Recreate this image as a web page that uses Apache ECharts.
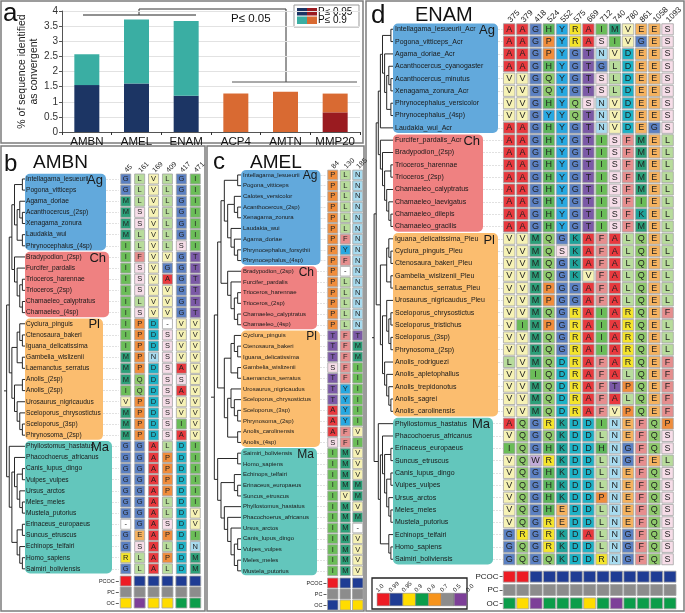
<!DOCTYPE html>
<html>
<head>
<meta charset="utf-8">
<title>Convergent sites in enamel proteins</title>
<script src="https://cdn.jsdelivr.net/npm/echarts@6/dist/echarts.min.js"></script>
<style>
html, body { margin: 0; padding: 0; background: #fff; }
#main { width: 685px; height: 613px; }
</style>
</head>
<body>
<div id="main"></div>
<script>
var FONT = '"Liberation Sans", Arial, sans-serif';

// ---- panel a : % of sequence identified as convergent
var geneNames = ['AMBN', 'AMEL', 'ENAM', 'ACP4', 'AMTN', 'MMP20'];
var geneIsEMP = [true, true, true, false, false, false];
var pct95 = [1.55, 1.6, 1.2, 0, 0, 0.65];      // P <= 0.95 part
var pct90 = [1.02, 2.12, 2.47, 1.27, 1.33, 0.62]; // extra part up to P <= 0.9

// ---- posterior scale (bins between the tick values)
var scaleTicks = ['1.0', '0.99', '0.95', '0.9', '0.8', '0.7', '0.5', '0.0'];
var scaleColors = ['#ed1c24', '#1f3c94', '#ffdc00', '#0b9d4a', '#f7941d', '#8c8c8c', '#7d3f98'];
var postRows = ['PCOC', 'PC', 'OC'];

var cladeColor = { Ag: '#62a9dc', Ch: '#ef8181', Pl: '#fbbd6f', Ma: '#63c6bc' };
var aaColor = {
	A: '#e8393e', G: '#5b80c2', L: '#b8dc9c', V: '#f6f2b5', I: '#6bbd58', M: '#2c9f78',
	S: '#f6dde8', T: '#7b59a6', P: '#f08d3c', D: '#1db2c6', N: '#a8dbef', Q: '#8fca6c',
	F: '#e68e8e', Y: '#28a8e0', H: '#5cb55a', R: '#f4e42c', K: '#1fa39a', E: '#f5b25f',
	W: '#c2abd8', '-': '#ffffff'
};

// ---- panel b : AMBN
var ambnSites = ['45', '161', '169', '409', '417', '471'];
var ambnTaxa = ['Intellagama_lesueurii', 'Pogona_vitticeps', 'Agama_doriae', 'Acanthocercus_(2sp)', 'Xenagama_zonura', 'Laudakia_wui', 'Phrynocephalus_(4sp)',
	'Bradypodion_(2sp)', 'Furcifer_pardalis', 'Trioceros_harennae', 'Trioceros_(2sp)', 'Chamaeleo_calyptratus', 'Chamaeleo_(4sp)',
	'Cyclura_pinguis', 'Ctenosaura_bakeri', 'Iguana_delicatissima', 'Gambelia_wislizenii', 'Laemanctus_serratus', 'Anolis_(2sp)', 'Anolis_(2sp)',
	'Urosaurus_nigricaudus', 'Sceloporus_chrysostictus', 'Sceloporus_(3sp)', 'Phrynosoma_(2sp)',
	'Phyllostomus_hastatus', 'Phacochoerus_africanus', 'Canis_lupus_dingo', 'Vulpes_vulpes', 'Ursus_arctos', 'Meles_meles', 'Mustela_putorius',
	'Erinaceus_europaeus', 'Suncus_etruscus', 'Echinops_telfairi', 'Homo_sapiens', 'Saimiri_boliviensis'];
var ambnSeq = ['GLVLGI', 'GLVLGI', 'MLVLGI', 'MSVLGI', 'MSVLGI', 'MLVLGI', 'ILVLSI',
	'IFVVGT', 'ISVGGT', 'ISVAGT', 'ISVVGT', 'ILVVGT', 'ISVVGT',
	'IPD-VV', 'IPDSVV', 'IPDSVV', 'MPNSVV', 'MPDSAV', 'MQDSSV', 'IQDSAV', 'VPDSVV', 'MPDSVV', 'MPDSIV', 'MPDSAV',
	'GGALDI', 'GGAPDI', 'GGAPDI', 'GGAPDI', 'GGAPDI', 'GGALDI', 'GGALDV', '-GASDV', 'GEAPDI', 'GSALDN', 'RLAPDM', 'GLALDM'];
var ambnClades = [['Ag', 0, 6], ['Ch', 7, 12], ['Pl', 13, 23], ['Ma', 24, 35]];
var ambnTree = [[[[[0, 1], [[2, [3, 4]], [5, 6]]], [7, [8, [[9, 10], [11, 12]]]]],
	[[[13, [14, 15]], [16, 17]], [[18, 19], [20, [21, [22, 23]]]]]],
	[24, [[25, [[26, 27], [28, [29, 30]]]], [[31, 32], [33, [34, 35]]]]]];
var ambnPost = [[0, 1, 1, 1, 1, 1], [5, 5, 5, 5, 5, 5], [2, 6, 2, 2, 3, 3]];

// ---- panel c : AMEL
var amelSites = ['84', '130', '185'];
var amelTaxa = ['Intellagama_lesueurii', 'Pogona_vitticeps', 'Calotes_versicolor', 'Acanthocercus_(2sp)', 'Xenagama_zonura', 'Laudakia_wui', 'Agama_doriae', 'Phrynocephalus_forsythii', 'Phrynocephalus_(4sp)',
	'Bradypodion_(2sp)', 'Furcifer_pardalis', 'Trioceros_harennae', 'Trioceros_(2sp)', 'Chamaeleo_calyptratus', 'Chamaeleo_(4sp)',
	'Cyclura_pinguis', 'Ctenosaura_bakeri', 'Iguana_delicatissima', 'Gambelia_wislizenii', 'Laemanctus_serratus', 'Urosaurus_nigricaudus',
	'Sceloporus_chrysostictus', 'Sceloporus_(3sp)', 'Phrynosoma_(2sp)', 'Anolis_carolinensis', 'Anolis_(4sp)',
	'Saimiri_boliviensis', 'Homo_sapiens', 'Echinops_telfairi', 'Erinaceus_europaeus', 'Suncus_etruscus', 'Phyllostomus_hastatus',
	'Phacochoerus_africanus', 'Ursus_arctos', 'Canis_lupus_dingo', 'Vulpes_vulpes', 'Meles_meles', 'Mustela_putorius'];
var amelSeq = ['PLN', 'PLN', 'PLN', 'PLN', 'PLN', 'PLN', 'PFN', 'PYN', 'PFN',
	'P-N', 'PLN', 'PLN', 'PLN', 'PLN', 'PLN',
	'TFT', 'TFM', 'TFM', 'SFI', 'TFI', 'TYI', 'TYI', 'AYI', 'AYI', 'AFV', 'SFI',
	'IMV', 'IMV', 'IMV', 'IMM', 'IVM', 'IMV', 'IMM', 'IM-', 'IMV', 'IMV', 'IMV', 'IMV'];
var amelClades = [['Ag', 0, 8], ['Ch', 9, 14], ['Pl', 15, 25], ['Ma', 26, 37]];
var amelTree = [[[[[0, 1], [[2, [3, 4]], [5, [6, [7, 8]]]]], [9, [10, [[11, 12], [13, 14]]]]],
	[[[15, [16, 17]], [18, 19]], [[20, [21, [22, 23]]], [24, 25]]]],
	[[26, 27], [[28, [29, 30]], [31, [32, [33, [[34, 35], [36, 37]]]]]]]];
var amelPost = [[0, 1, 1], [5, 5, 5], [1, 2, 2]];

// ---- panel d : ENAM
var enamSites = ['375', '379', '418', '524', '552', '575', '669', '712', '740', '780', '861', '1058', '1093'];
var enamTaxa = ['Intellagama_lesueurii_Acr', 'Pogona_vitticeps_Acr', 'Agama_doriae_Acr', 'Acanthocercus_cyanogaster', 'Acanthocercus_minutus',
	'Xenagama_zonura_Acr', 'Phrynocephalus_versicolor', 'Phrynocephalus_(4sp)', 'Laudakia_wui_Acr',
	'Furcifer_pardalis_Acr', 'Bradypodion_(2sp)', 'Trioceros_harennae', 'Trioceros_(2sp)', 'Chamaeleo_calyptratus', 'Chamaeleo_laevigatus',
	'Chamaeleo_dilepis', 'Chamaeleo_gracilis',
	'Iguana_delicatissima_Pleu', 'Cyclura_pinguis_Pleu', 'Ctenosaura_bakeri_Pleu', 'Gambelia_wislizenii_Pleu', 'Laemanctus_serratus_Pleu',
	'Urosaurus_nigricaudus_Pleu', 'Sceloporus_chrysostictus', 'Sceloporus_tristichus', 'Sceloporus_(3sp)', 'Phrynosoma_(2sp)',
	'Anolis_rodriguezi', 'Anolis_apletophallus', 'Anolis_trepidonotus', 'Anolis_sagrei', 'Anolis_carolinensis',
	'Phyllostomus_hastatus', 'Phacochoerus_africanus', 'Erinaceus_europaeus', 'Suncus_etruscus', 'Canis_lupus_dingo', 'Vulpes_vulpes',
	'Ursus_arctos', 'Meles_meles', 'Mustela_putorius', 'Echinops_telfairi', 'Homo_sapiens', 'Saimiri_boliviensis'];
var enamSeq = ['AAGHYRAIMVEES', 'AAGPYRASIVGES', 'AAGPYGTNVDEES', 'AAGHYGTGLDEES', 'VVGQYGTSLDEES', 'VVGQYGTSLDEES',
	'VVGHYQSNVDEES', 'VVGYYQTNVDEES', 'AAGHYGTNVDEGS',
	'AAGHYGTISFMEL', 'AAGHYGTISFMEL', 'AAGHYGTISFMEL', 'AAGHYGTISFMEL', 'AAGHYGTISFMEL', 'AAGHYGTISFIEL', 'AAGHYGTISFKEL', 'AAGHYGTISFMEL',
	'VVMQGKAFALQEL', 'VVMQSKAFALQEL', 'VVMQGKAFALQEL', 'VVMQGKVFALQEL', 'VVMPGGAFALQEL', 'VVMPGGAFALQEL', 'VVMQGRAIARQEF',
	'VIMPGRAIARQEL', 'VVMQGRAIARQEL', 'VVMQGRAIARQEL', 'LVMQDRAFARQEF', 'VVIQDRAFALQEF', 'VVMQDRAFTPQEF', 'VVMQDRAFALQEF', 'VVMQDRAFVPQEF',
	'AQGRKDDINEFQP', 'VQGQKDDLNEFQS', 'IQGHKDDHNGFQS', 'VQWRKDDLNGFEL', 'VQGHKDDLNEFQS', 'VQGHKDDLNEFQS', 'VQGHKDDPNEFQS',
	'VQGHEDDLNEFQS', 'VQGREDDLNEFQS', 'GRGRKDALNGFQS', 'GQGRKDDLNGFQS', 'GQGQKDDRNGFQS'];
var enamClades = [['Ag', 0, 8], ['Ch', 9, 16], ['Pl', 17, 31], ['Ma', 32, 43]];
var enamTree = [[[[[[0, 1], [2, [[3, [4, 5]], [6, 7]]]], 8], [9, [10, [[11, 12], [13, [14, [15, 16]]]]]]],
	[[[17, [18, 19]], [20, 21]], [[22, [[23, 24], [25, 26]]], [27, [28, [29, [30, 31]]]]]]],
	[32, [[33, [[34, 35], [[36, 37], [38, [39, 40]]]]], [41, [42, 43]]]]];
var enamPost = [[0, 0, 1, 1, 1, 1, 1, 1, 1, 1, 1, 1, 1], [5, 5, 5, 5, 5, 5, 5, 5, 5, 5, 5, 5, 5], [3, 2, 6, 3, 3, 3, 2, 3, 6, 3, 3, 3, 3]];

// ---- layout (pixels)
var layoutB = { treeLeft: 3, labelX: 26, boxL: 25, boxR: { Ag: 106, Ch: 109, Pl: 103, Ma: 112 }, cellLeft: 118.8, cellW: 83.4,
	top: 173.4, height: 401, pcTop: 575.5, pcH: 33, cell: [10, 10], pcCell: [11, 10],
	nameSize: 6.6, letterSize: 7.5, siteSize: 7, cladeSize: 13, pcSize: 5.5 };
var layoutC = { treeLeft: 210, labelX: 243, boxL: 241, boxR: { Ag: 320.5, Ch: 317, Pl: 320, Ma: 317 }, cellLeft: 326.5, cellW: 37.5,
	top: 169.6, height: 406.6, pcTop: 577.5, pcH: 33, cell: [10, 9.6], pcCell: [10.5, 10],
	nameSize: 6, letterSize: 7.5, siteSize: 7, cladeSize: 12, pcSize: 5.5 };
var layoutD = { treeLeft: 371, labelX: 395, boxL: 393, boxR: { Ag: 498, Ch: 483, Pl: 498, Ma: 493 }, cellLeft: 502.6, cellW: 174.1,
	top: 23.1, height: 542.3, pcTop: 570, pcH: 40, cell: [11.5, 11], pcCell: [12, 11],
	nameSize: 7, letterSize: 9, siteSize: 8, cladeSize: 13, pcSize: 8 };

var grids = [], xAxes = [], yAxes = [], series = [];

function treeHeight(n) {
	return typeof n === 'number' ? 0 : 1 + Math.max.apply(null, n.map(treeHeight));
}

// elbow segments of a right-aligned cladogram
function treeSegments(root, xLeaf, xRoot) {
	var step = (xLeaf - xRoot) / (treeHeight(root) + 1);
	var segs = [];
	function walk(n) {
		if (typeof n === 'number') return [xLeaf, n];
		var kids = n.map(walk);
		var x = xLeaf - treeHeight(n) * step;
		var y = (kids[0][1] + kids[kids.length - 1][1]) / 2;
		kids.forEach(function (k) {
			segs.push([[x, y], [x, k[1]], [k[0], k[1]]]);
		});
		return [x, y];
	}
	var r = walk(root);
	segs.push([[xRoot, r[1]], [r[0], r[1]]]);
	return segs;
}

function textRender(getText, size, align) {
	return function (params, api) {
		var p = api.coord([api.value(0), api.value(1)]);
		return {
			type: 'text', x: p[0], y: p[1],
			style: { text: getText(params.dataIndex), fontSize: size, fontFamily: FONT, fill: '#1a1a1a', align: align, verticalAlign: 'middle' }
		};
	};
}

function buildPanel(sites, taxa, seq, clades, tree, post, L) {
	var g = grids.length;
	var n = taxa.length;
	var rowOf = [];
	clades.forEach(function (c) {
		for (var i = c[1]; i <= c[2]; i++) rowOf[i] = c[0];
	});

	grids.push({ left: L.treeLeft, top: L.top, width: L.cellLeft - L.treeLeft, height: L.height });
	grids.push({ left: L.cellLeft, top: L.top, width: L.cellW, height: L.height });
	grids.push({ left: L.cellLeft, top: L.pcTop, width: L.cellW, height: L.pcH });

	xAxes.push({ gridIndex: g, type: 'value', min: L.treeLeft, max: L.cellLeft, show: false });
	yAxes.push({ gridIndex: g, type: 'value', min: -0.5, max: n - 0.5, inverse: true, show: false });
	xAxes.push({
		gridIndex: g + 1, type: 'category', data: sites, position: 'top',
		axisLine: { show: false }, axisTick: { show: false }, splitLine: { show: false },
		axisLabel: { interval: 0, rotate: 45, fontSize: L.siteSize, fontFamily: FONT, margin: 2, color: '#222' }
	});
	yAxes.push({ gridIndex: g + 1, type: 'value', min: -0.5, max: n - 0.5, inverse: true, show: false });
	xAxes.push({ gridIndex: g + 2, type: 'category', data: sites, show: false });
	yAxes.push({
		gridIndex: g + 2, type: 'category', data: postRows, inverse: true,
		axisLine: { show: false },
		axisTick: { show: true, alignWithLabel: true, length: 3, lineStyle: { color: '#333', width: 0.8 } },
		axisLabel: { fontSize: L.pcSize, fontFamily: FONT, margin: 4, color: '#222' },
		splitLine: { show: false }
	});

	//clade boxes
	series.push({
		type: 'custom', xAxisIndex: g, yAxisIndex: g, z: 1, silent: true,
		encode: { x: [0, 1], y: [2, 3] },
		data: clades.map(function (c) {
			return { value: [L.boxL, L.boxR[c[0]], c[1] - 0.47, c[2] + 0.42], itemStyle: { color: cladeColor[c[0]] } };
		}),
		renderItem: function (params, api) {
			var a = api.coord([api.value(0), api.value(2)]);
			var b = api.coord([api.value(1), api.value(3)]);
			return { type: 'rect', shape: { x: a[0], y: a[1], width: b[0] - a[0], height: b[1] - a[1], r: 5 }, style: { fill: api.visual('color') } };
		}
	});
	//dashed leaders to the alignment
	series.push({
		type: 'lines', coordinateSystem: 'cartesian2d', xAxisIndex: g, yAxisIndex: g, z: 2, silent: true,
		lineStyle: { color: '#9a9a9a', width: 0.6, type: [2, 1] },
		data: taxa.map(function (t, i) {
			return { coords: [[L.boxR[rowOf[i]], i], [L.cellLeft, i]] };
		})
	});
	//tree
	series.push({
		type: 'lines', coordinateSystem: 'cartesian2d', xAxisIndex: g, yAxisIndex: g, z: 3, silent: true, polyline: true,
		lineStyle: { color: '#111', width: 0.9, opacity: 1 },
		data: treeSegments(tree, L.boxL, L.treeLeft + 1).map(function (s) {
			return { coords: s };
		})
	});
	//species names
	series.push({
		type: 'custom', xAxisIndex: g, yAxisIndex: g, z: 4, silent: true,
		encode: { x: 0, y: 1 },
		data: taxa.map(function (t, i) { return [L.labelX, i]; }),
		renderItem: textRender(function (i) { return taxa[i]; }, L.nameSize, 'left')
	});
	//clade names
	series.push({
		type: 'custom', xAxisIndex: g, yAxisIndex: g, z: 4, silent: true,
		encode: { x: 0, y: 1 },
		data: clades.map(function (c) { return [L.boxR[c[0]] - 3, c[1] + 0.1]; }),
		renderItem: textRender(function (i) { return clades[i][0]; }, L.cladeSize, 'right')
	});
	//alignment cells
	var cells = [];
	seq.forEach(function (s, i) {
		for (var j = 0; j < s.length; j++) {
			cells.push({ value: [j, i], name: s[j], itemStyle: { color: aaColor[s[j]] } });
		}
	});
	series.push({
		type: 'scatter', xAxisIndex: g + 1, yAxisIndex: g + 1, symbol: 'rect', symbolSize: L.cell, silent: true,
		itemStyle: { borderColor: '#a5a5a5', borderWidth: 0.8, opacity: 1 },
		label: { show: true, position: 'inside', formatter: '{b}', fontSize: L.letterSize, fontFamily: FONT, color: '#222' },
		data: cells
	});
	//PCOC / PC / OC posterior rows
	var pc = [];
	post.forEach(function (row, r) {
		row.forEach(function (bin, j) {
			pc.push({ value: [j, r], itemStyle: { color: scaleColors[bin] } });
		});
	});
	series.push({
		type: 'scatter', xAxisIndex: g + 2, yAxisIndex: g + 2, symbol: 'rect', symbolSize: L.pcCell, silent: true,
		itemStyle: { borderColor: '#a5a5a5', borderWidth: 0.8, opacity: 1 },
		data: pc
	});
}

// panel a grid
grids.push({ left: 62, top: 11, width: 298, height: 121 });
xAxes.push({
	gridIndex: 0, type: 'category', data: geneNames,
	axisLine: { lineStyle: { color: '#555' } },
	axisTick: { show: true, length: 3, lineStyle: { color: '#333' } },
	axisLabel: { fontSize: 11.5, fontFamily: FONT, color: '#111', margin: 4, interval: 0 }
});
yAxes.push({
	gridIndex: 0, type: 'value', min: 0, max: 4, interval: 0.5,
	name: '% of sequence identified\nas convergent', nameLocation: 'middle', nameGap: 20, nameRotate: 90,
	nameTextStyle: { fontSize: 10.5, lineHeight: 12, fontFamily: FONT, color: '#222' },
	axisLine: { show: true, lineStyle: { color: '#555' } },
	axisTick: { show: true, length: 3, lineStyle: { color: '#555' } },
	axisLabel: { fontSize: 10, fontFamily: FONT, color: '#333', margin: 4 },
	splitLine: { lineStyle: { color: '#e2e2e2' } }
});
series.push({
	type: 'bar', name: 'P≤ 0.95', stack: 'conv', barWidth: 25, xAxisIndex: 0, yAxisIndex: 0, silent: true,
	data: pct95.map(function (v, i) {
		return { value: v, itemStyle: { color: geneIsEMP[i] ? '#1c3564' : '#9a1b20' } };
	})
});
series.push({
	type: 'bar', name: 'P≤ 0.9', stack: 'conv', barWidth: 25, xAxisIndex: 0, yAxisIndex: 0, silent: true,
	data: pct90.map(function (v, i) {
		return { value: v, itemStyle: { color: geneIsEMP[i] ? '#3aaea3' : '#d96a32' } };
	})
});

buildPanel(ambnSites, ambnTaxa, ambnSeq, ambnClades, ambnTree, ambnPost, layoutB);
buildPanel(amelSites, amelTaxa, amelSeq, amelClades, amelTree, amelPost, layoutC);
buildPanel(enamSites, enamTaxa, enamSeq, enamClades, enamTree, enamPost, layoutD);

// colour scale of panel d
var sg = grids.length;
grids.push({ left: 377, top: 593, width: 90, height: 13 });
xAxes.push({
	gridIndex: sg, type: 'value', min: 0, max: 7, interval: 1, position: 'top',
	axisLine: { show: false }, axisTick: { show: false }, splitLine: { show: false },
	axisLabel: { rotate: 45, fontSize: 6, fontFamily: FONT, margin: 2, color: '#222', formatter: function (v) { return scaleTicks[v]; } }
});
yAxes.push({ gridIndex: sg, type: 'value', min: 0, max: 1, show: false });
series.push({
	type: 'scatter', xAxisIndex: sg, yAxisIndex: sg, symbol: 'rect', symbolSize: [12.6, 12.5], silent: true,
	itemStyle: { borderColor: '#777', borderWidth: 0.5, opacity: 1 },
	data: scaleColors.map(function (c, i) {
		return { value: [i + 0.5, 0.5], itemStyle: { color: c } };
	})
});

function txt(x, y, s, size) {
	return { type: 'text', x: x, y: y, silent: true, style: { text: s, fontSize: size, fontFamily: FONT, fill: '#111', align: 'left', verticalAlign: 'middle' } };
}
function frame(x, y, w, h) {
	return { type: 'rect', silent: true, shape: { x: x, y: y, width: w, height: h }, style: { fill: 'none', stroke: '#7c7c7c', lineWidth: 1.5 } };
}
function seg(pts, color) {
	return { type: 'polyline', silent: true, shape: { points: pts }, style: { stroke: color, lineWidth: 1, fill: 'none' } };
}
function box(x, y, w, h, color) {
	return { type: 'rect', silent: true, shape: { x: x, y: y, width: w, height: h }, style: { fill: color } };
}

var graphics = [
	frame(1, 1, 362, 142), frame(1, 146, 204, 465), frame(207, 146, 157, 465), frame(366, 1, 318, 610),
	txt(3, 14, 'a', 26), txt(4, 164, 'b', 24), txt(33, 163, 'AMBN', 19), txt(213, 162, 'c', 24), txt(250, 163, 'AMEL', 19),
	txt(371, 16, 'd', 26), txt(415, 15, 'ENAM', 20),
	//significance bracket
	seg([[83, 15], [196, 15]], '#222'), seg([[139, 15], [139, 9], [286, 9], [286, 82]], '#333'), seg([[232, 82], [357, 82]], '#555'),
	txt(231, 19, 'P≤ 0.05', 11.5),
	//legend of panel a
	{ type: 'rect', silent: true, shape: { x: 294, y: 5, width: 65, height: 22 }, style: { fill: '#fff', stroke: '#999', lineWidth: 1 } },
	box(297, 8, 10, 7.5, '#1c3564'), box(307, 8, 10, 7.5, '#9a1b20'),
	box(297, 16.5, 10, 7.5, '#3aaea3'), box(307, 16.5, 10, 7.5, '#d96a32'),
	txt(318, 12, 'P≤ 0.95', 10), txt(318, 20.5, 'P≤ 0.9', 10),
	//frame of colour scale
	{ type: 'rect', silent: true, shape: { x: 372, y: 578, width: 95, height: 31 }, style: { fill: 'none', stroke: '#222', lineWidth: 1.3 } }
];

var chart = echarts.init(document.getElementById('main'), null, { renderer: 'canvas' });
chart.setOption({
	backgroundColor: '#fff',
	animation: false,
	textStyle: { fontFamily: FONT },
	grid: grids,
	xAxis: xAxes,
	yAxis: yAxes,
	series: series,
	graphic: { elements: graphics }
});
</script>
</body>
</html>
